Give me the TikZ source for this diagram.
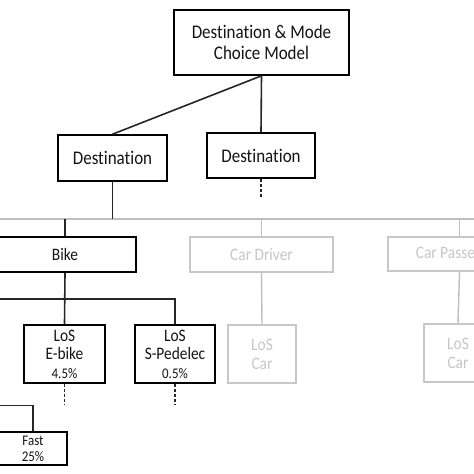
\documentclass[tikz,border=0pt]{standalone}
\usepackage{fontspec}
\setmainfont{Carlito}[Ligatures=NoCommon, FakeStretch=0.88]
\newcommand{\fsz}[2]{\fontsize{#1}{#2}\selectfont}
\begin{document}
\begin{tikzpicture}[x=1pt,y=-1pt,
  blk/.style={draw=black, line width=1.6pt, fill=white, inner sep=0pt, align=center, text=black!92},
  gry/.style={draw=black!22, line width=1.4pt, fill=white, inner sep=0pt, align=center, text=black!22},
  bl/.style={draw=black!85, line width=1.6pt},
  gl/.style={draw=black!25, line width=1.4pt},
  dsh/.style={draw=black!85, line width=1.7pt, dash pattern=on 3pt off 2pt}]
\useasboundingbox (0,0) rectangle (474,474);
\clip (0,0) rectangle (474,474);
\fill[white] (0,0) rectangle (474,474);
% nodes
\node[blk, minimum width=175pt, minimum height=65pt, font=\fsz{19.3}{21.5}] (top) at (261.5,42.5) {Destination \& Mode\\Choice Model};
\node[blk, minimum width=109pt, minimum height=46pt, font=\fsz{19.3}{21}] (dl) at (112.5,158) {Destination};
\node[blk, minimum width=108pt, minimum height=45pt, font=\fsz{19.3}{21}] (dr) at (261,155.5) {Destination};
\node[blk, minimum width=142pt, minimum height=35pt, font=\fsz{17.5}{18}] (bike) at (65,254.5) {Bike};
\node[gry, minimum width=143pt, minimum height=35pt, font=\fsz{17.5}{18}] (cd) at (261.5,254.5) {Car Driver};
\node[gry, minimum width=143pt, minimum height=34pt, font=\fsz{17.5}{18}] (cp) at (459.5,254) {Car Passenger};
\node[blk, minimum width=81pt, minimum height=58pt, font=\fsz{17.5}{18.5}] (eb) at (64.5,354) {LoS\\E-bike\\{\fsz{14.7}{16}4.5\%}};
\node[blk, minimum width=80pt, minimum height=58pt, font=\fsz{17.5}{18.5}] (sp) at (175,354) {LoS\\S-Pedelec\\{\fsz{14.7}{16}0.5\%}};
\node[gry, minimum width=68pt, minimum height=58pt, font=\fsz{17.5}{19}] (lc1) at (262,354) {LoS\\Car};
\node[gry, minimum width=68pt, minimum height=58pt, font=\fsz{17.5}{19}] (lc2) at (458,353) {LoS\\Car};
\node[blk, minimum width=68pt, minimum height=33pt, font=\fsz{14.7}{16}, line width=1.3pt] (fast) at (33,448.5) {Fast\\25\%};
% coordinates
\coordinate (busL) at (-10,219);
\coordinate (busR) at (484,219);
\coordinate (barL) at (-10,299);
\coordinate (fl) at (-10,405.5);
\coordinate (drd) at (261,198);
\coordinate (ebd) at (64.5,405);
\coordinate (spd) at (175,405);
% connectors
\draw[gl] (busL) -- (busR);
\draw[gl] (cd.north) -- (cd.north |- busL);
\draw[gl] (cp.north) -- (cp.north |- busL);
\draw[gl] (cd.south) -- (lc1.north);
\draw[gl] (cp.south) -- (lc2.north);
\draw[bl] (top.south) -- (dl.north);
\draw[bl] (top.south) -- (dr.north);
\draw[bl] (dl.south) -- (dl.south |- busL);
\draw[bl] (bike.north) -- (bike.north |- busL);
\draw[bl] (bike.south) -- (eb.north);
\draw[bl] (barL) -| (sp.north);
\draw[dsh] (dr.south) -- (drd);
\draw[dsh] (eb.south) -- (ebd);
\draw[dsh] (sp.south) -- (spd);
\draw[bl, line width=1.3pt] (fl) -| (fast.north);
\end{tikzpicture}
\end{document}
